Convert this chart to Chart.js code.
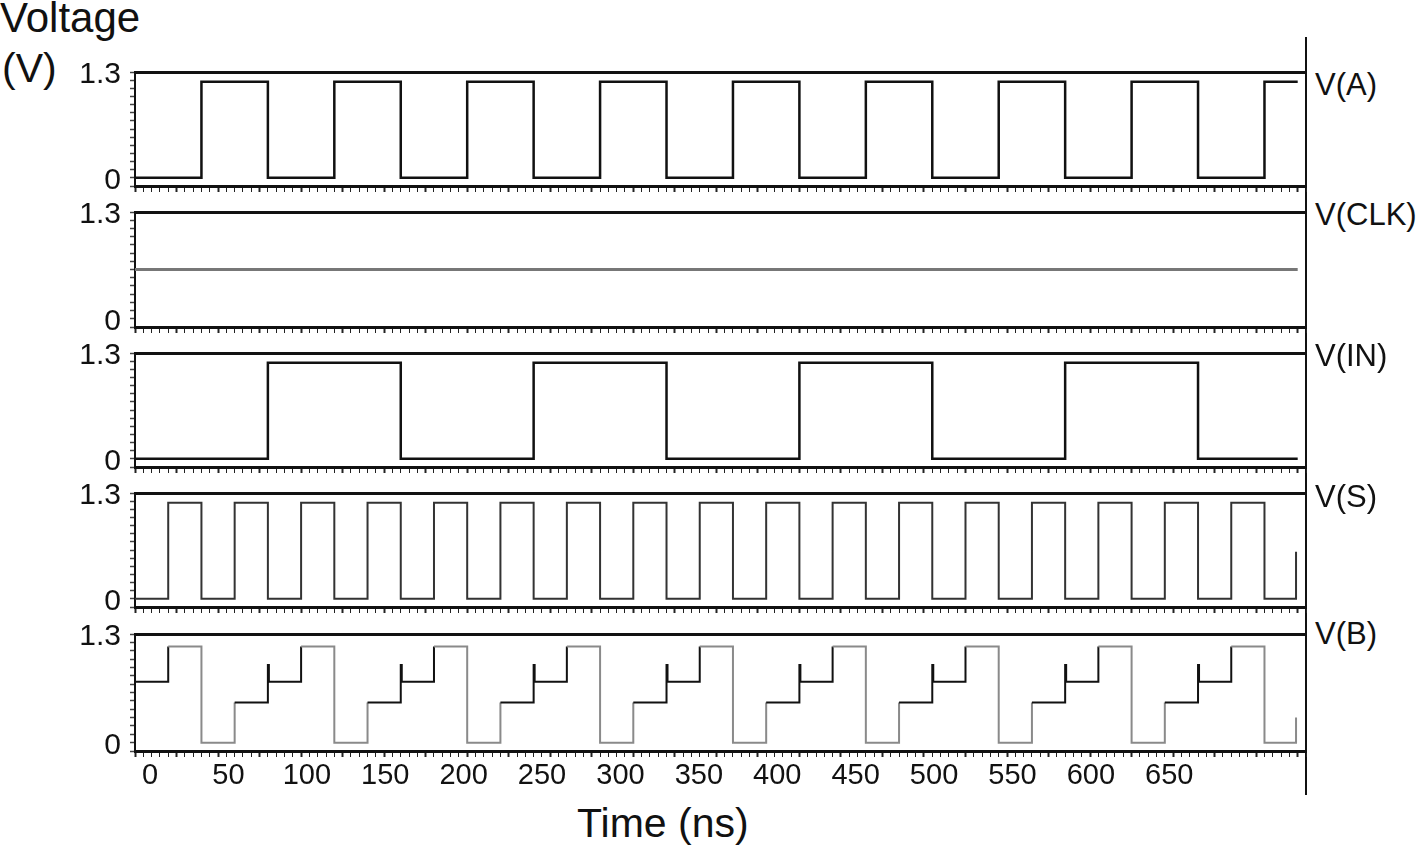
<!DOCTYPE html>
<html>
<head>
<meta charset="utf-8">
<title>Voltage waveforms</title>
<script src="https://cdn.jsdelivr.net/npm/chart.js@4.4.0/dist/chart.umd.min.js"></script>
<style>
  body { margin: 0; background: #fff; }
  #wrap { position: relative; width: 1417px; height: 852px; overflow: hidden;
          font-family: "Liberation Sans", Arial, sans-serif; color: #111; }
  .panel { position: absolute; left: 0; width: 1310px; }
  .txt { position: absolute; white-space: nowrap; line-height: 1; }
  .sig { left: 1315px; font-size: 31px; }
  #rule { position: absolute; left: 1305px; top: 37px; width: 2px; height: 758px; background: #111; }
</style>
</head>
<body>
<div id="wrap">
  <div class="txt" style="left:0;top:-3px;font-size:42px">Voltage</div>
  <div class="txt" style="left:2px;top:48px;font-size:41px">(V)</div>
  <div class="txt" style="left:577px;top:803px;font-size:41px">Time (ns)</div>
  <div id="rule"></div>
</div>
<script>
// signal names, top to bottom
const signalNames = ['V(A)', 'V(CLK)', 'V(IN)', 'V(S)', 'V(B)'];

// time axis labels (ns)
const timeTicks = [0, 50, 100, 150, 200, 250, 300, 350, 400, 450, 500, 550, 600, 650];

// each signal: times (ns) where a new level starts, and that level (V)
const tA = [0, 40, 80, 120, 160, 200, 240, 280, 320, 360, 400, 440, 480, 520, 560, 600, 640, 680, 700];
const vA = [0, 1.18, 0, 1.18, 0, 1.18, 0, 1.18, 0, 1.18, 0, 1.18, 0, 1.18, 0, 1.18, 0, 1.18, 1.18];

const tClk = [0, 700];
const vClk = [0.6, 0.6];

const tIn = [0, 80, 160, 240, 320, 400, 480, 560, 640, 700];
const vIn = [0, 1.18, 0, 1.18, 0, 1.18, 0, 1.18, 0, 0];

const tS = [0, 20, 40, 60, 80, 100, 120, 140, 160, 180, 200, 220, 240, 260, 280, 300, 320, 340,
            360, 380, 400, 420, 440, 460, 480, 500, 520, 540, 560, 580, 600, 620, 640, 660, 680, 699];
const vS = [0, 1.18, 0, 1.18, 0, 1.18, 0, 1.18, 0, 1.18, 0, 1.18, 0, 1.18, 0, 1.18, 0, 1.18,
            0, 1.18, 0, 1.18, 0, 1.18, 0, 1.18, 0, 1.18, 0, 1.18, 0, 1.18, 0, 1.18, 0, 0.58];

const tB = [0, 20, 40, 60,
            80, 80.6, 100, 120, 140,
            160, 160.6, 180, 200, 220,
            240, 240.6, 260, 280, 300,
            320, 320.6, 340, 360, 380,
            400, 400.6, 420, 440, 460,
            480, 480.6, 500, 520, 540,
            560, 560.6, 580, 600, 620,
            640, 640.6, 660, 680, 699];
const vB = [0.73, 1.15, 0, 0.48,
            0.93, 0.73, 1.15, 0, 0.48,
            0.93, 0.73, 1.15, 0, 0.48,
            0.93, 0.73, 1.15, 0, 0.48,
            0.93, 0.73, 1.15, 0, 0.48,
            0.93, 0.73, 1.15, 0, 0.48,
            0.93, 0.73, 1.15, 0, 0.48,
            0.93, 0.73, 1.15, 0, 0.48,
            0.93, 0.73, 1.15, 0, 0.3];

const seriesTimes = [tA, tClk, tIn, tS, tB];
const seriesValues = [vA, vClk, vIn, vS, vB];

// styling / layout
const lineColors = ['#111', '#777', '#111', '#333', '#8a8a8a'];
const lineWidths = [2.5, 3, 2.5, 2, 2];
const panelTop = [72, 212, 353, 493, 634];
const panelBottom = [186, 327, 467, 607, 751];
const nameBaseline = [95, 225, 366, 507, 644];
const PAD_TOP = 20;

const FONT = '"Liberation Sans", Arial, sans-serif';
Chart.defaults.font.family = FONT;
Chart.defaults.color = '#111';

const wrap = document.getElementById('wrap');

function toPoints(t, v) {
    return t.map((x, k) => ({ x: x, y: v[k] }));
}

// keep tick-label overhang from shrinking the plot area
function noPad(s) {
    s.paddingTop = 0; s.paddingBottom = 0; s.paddingLeft = 0; s.paddingRight = 0;
}

signalNames.forEach(function (name, i) {
    const last = i === signalNames.length - 1;

    const box = document.createElement('div');
    box.className = 'panel';
    box.style.top = (panelTop[i] - PAD_TOP) + 'px';
    box.style.height = (panelBottom[i] - panelTop[i] + PAD_TOP + 8 + (last ? 45 : 0)) + 'px';
    const cv = document.createElement('canvas');
    box.appendChild(cv);
    wrap.appendChild(box);

    const label = document.createElement('div');
    label.className = 'txt sig';
    label.textContent = name;
    label.style.top = (nameBaseline[i] - 26) + 'px';
    wrap.appendChild(label);

    const scales = {
        x: {
            type: 'linear', position: 'bottom', min: 0, max: 705,
            ticks: { display: false, stepSize: 5 },
            grid: {
                drawOnChartArea: false, tickLength: 6, tickColor: '#222',
                tickWidth: c => (c.tick && c.tick.value % 25 === 0 ? 2 : 1)
            },
            border: { display: true, color: '#111', width: 3 },
            afterFit: s => { s.height = 8; noPad(s); }
        },
        xt: {
            type: 'linear', position: 'top', min: 0, max: 705,
            ticks: { display: false },
            grid: { display: false, drawTicks: false },
            border: { display: true, color: '#111', width: 3 },
            afterFit: s => { s.height = 0; noPad(s); }
        },
        y: {
            min: -0.1, max: 1.3,
            ticks: {
                stepSize: 0.1, autoSkip: false, padding: 9, labelOffset: 3,
                font: { size: 30 },
                callback: v => (Math.abs(v - 1.3) < 1e-6 ? '1.3' : Math.abs(v) < 1e-6 ? '0' : '')
            },
            grid: { drawOnChartArea: false, tickLength: 5, tickColor: '#444', tickWidth: 1.5 },
            border: { display: true, color: '#111', width: 2 },
            afterFit: s => { s.width = 135; noPad(s); }
        }
    };

    if (last) {
        // the printed time labels sit on a slightly compressed spacing
        scales.xl = {
            type: 'linear', position: 'bottom', weight: 1, min: -9.6, max: 737.2,
            afterBuildTicks: s => { s.ticks = timeTicks.map(v => ({ value: v })); },
            ticks: { autoSkip: false, maxRotation: 0, padding: 0, font: { size: 29 } },
            grid: { display: false, drawTicks: false },
            border: { display: false },
            afterFit: s => { s.height = 45; noPad(s); }
        };
    }

    const dataset = {
        data: toPoints(seriesTimes[i], seriesValues[i]),
        xAxisID: 'x',
        yAxisID: 'y',
        stepped: true,
        borderColor: lineColors[i],
        borderWidth: lineWidths[i],
        pointRadius: 0,
        fill: false
    };
    if (name === 'V(B)') {
        // intermediate levels are drawn darker in the source plot
        dataset.segment = {
            borderColor: ctx => (ctx.p0.parsed.y > 0.2 && ctx.p0.parsed.y < 1.0 ? '#111' : '#8a8a8a')
        };
    }

    new Chart(cv, {
        type: 'line',
        data: { datasets: [dataset] },
        options: {
            responsive: true,
            maintainAspectRatio: false,
            animation: false,
            layout: { padding: { top: PAD_TOP, right: 4, left: 0, bottom: 0 } },
            plugins: { legend: { display: false }, tooltip: { enabled: false } },
            scales: scales
        }
    });
});
</script>
</body>
</html>
